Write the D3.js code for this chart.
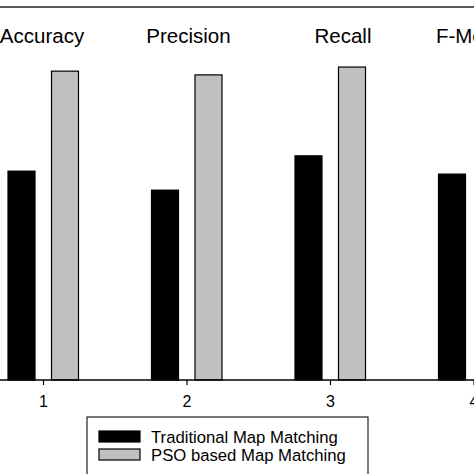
<!DOCTYPE html>
<html>
<head>
<meta charset="utf-8">
<script src="https://cdn.jsdelivr.net/npm/d3@7"></script>
<style>
  body { margin: 0; background: #fff; }
  svg { display: block; font-family: "Liberation Sans", Arial, sans-serif; }
</style>
</head>
<body>
<svg id="chart"></svg>
<script>
// data (values in %)
const groups = [1, 2, 3, 4];
const metrics = ["Accuracy", "Precision", "Recall", "F-Measure"];
const traditional = [56.0, 50.9, 60.1, 55.2];
const psoBased = [82.8, 81.8, 83.9, 82.5];
const seriesNames = ["Traditional Map Matching", "PSO based Map Matching"];

const width = 474, height = 474;
const colors = ["#000000", "#c0c0c0"];
const titleShift = [-1, 2, 13, 12]; // labels in the figure sit a bit off their ticks

const svg = d3.select("#chart")
  .attr("width", width)
  .attr("height", height);

const x = d3.scaleLinear()
  .domain([1, 4])
  .range([43, 473.5]);

const y = d3.scaleLinear()
  .domain([0, 100])
  .range([380, 7]);

const barW = 27;
const offsets = [-21.5, 22];

// frame line across the top
svg.append("line")
  .attr("x1", 0).attr("x2", width)
  .attr("y1", y(100)).attr("y2", y(100))
  .attr("stroke", "#222").attr("stroke-width", 1.5);

// bars
const series = [traditional, psoBased];
series.forEach((vals, s) => {
  svg.append("g")
    .selectAll("rect")
    .data(vals)
    .join("rect")
    .attr("x", (d, i) => x(groups[i]) + offsets[s] - barW / 2)
    .attr("y", d => y(d))
    .attr("width", barW)
    .attr("height", d => y(0) - y(d))
    .attr("fill", colors[s])
    .attr("stroke", "#000")
    .attr("stroke-width", 1.2);
});

// bottom axis
const axis = svg.append("g")
  .attr("transform", `translate(0,${y(0)})`)
  .call(d3.axisBottom(x).tickValues(groups).tickFormat(d3.format("d")).tickSize(5).tickPadding(11).tickSizeOuter(0));
axis.attr("font-size", null).attr("font-family", null);
axis.select(".domain").remove();
axis.selectAll("text")
  .style("font-size", "16px")
  .style("font-family", "'Liberation Sans', Arial, sans-serif")
  .attr("fill", "#000");
axis.selectAll("line").attr("stroke", "#000").attr("stroke-width", 1.2);
svg.append("line")
  .attr("x1", 0).attr("x2", width)
  .attr("y1", y(0)).attr("y2", y(0))
  .attr("stroke", "#000").attr("stroke-width", 1.5);

// metric titles
svg.append("g")
  .selectAll("text")
  .data(metrics)
  .join("text")
  .attr("x", (d, i) => x(groups[i]) + titleShift[i])
  .attr("y", 43)
  .attr("text-anchor", "middle")
  .attr("font-size", 20.5)
  .attr("fill", "#000")
  .text(d => d);

// legend
const lg = svg.append("g").attr("transform", "translate(87,417)");
lg.append("rect")
  .attr("width", 281).attr("height", 70)
  .attr("fill", "#fff").attr("stroke", "#222").attr("stroke-width", 1.2);
seriesNames.forEach((name, i) => {
  lg.append("rect")
    .attr("x", 12).attr("y", 14 + i * 18)
    .attr("width", 41).attr("height", 11)
    .attr("fill", colors[i]).attr("stroke", "#000").attr("stroke-width", 1.2);
  lg.append("text")
    .attr("x", 64).attr("y", 25.5 + i * 18)
    .attr("font-size", 16.7)
    .attr("fill", "#000")
    .text(name);
});
</script>
</body>
</html>
